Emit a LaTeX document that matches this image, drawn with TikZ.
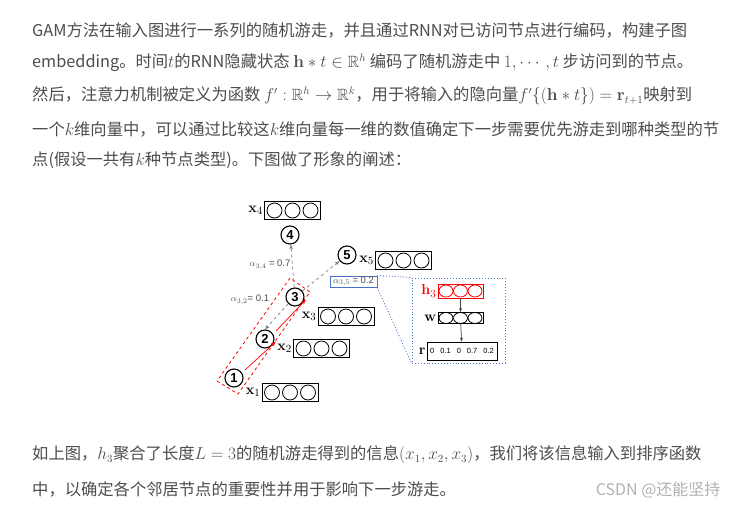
\documentclass[tikz,border=0pt]{standalone}
\usepackage{amsmath,amssymb}
\usepackage[no-math]{fontspec}
\setmainfont{Noto Sans CJK SC}
\newfontfamily\lib{Liberation Sans}
\usetikzlibrary{arrows.meta}
\definecolor{txt}{HTML}{4D4D4D}
\definecolor{bl}{HTML}{4A72C4}
\begin{document}
\begin{tikzpicture}[x=1pt,y=-1pt,
  para/.style={anchor=west,inner sep=0,text=txt,font=\fontsize{16.3}{18}\selectfont},
  num/.style={circle,draw,line width=1.1pt,minimum size=18pt,inner sep=0,font=\lib\bfseries\fontsize{13}{13}\selectfont},
  vec/.style={draw,line width=0.8pt,minimum width=56pt,minimum height=18pt,inner sep=0},
  lab/.style={font=\fontsize{15}{15}\selectfont,inner sep=1pt},
  redar/.style={red,-{Stealth[length=5pt]},line width=0.7pt},
  grar/.style={gray,dashed,-{Stealth[length=5pt]},line width=0.7pt}]
\useasboundingbox[fill=white](0,0) rectangle (736,509);
\node[para] (l1) at (32,30) {GAM方法在输入图进行一系列的随机游走，并且通过RNN对已访问节点进行编码，构建子图};
\node[para] (l2) at (32,63) {embedding。时间$t$的RNN隐藏状态 $\mathbf{h}*t\in\mathbb{R}^h$ 编码了随机游走中 $1,\cdots,t$ 步访问到的节点。};
\node[para] (l3) at (32,96) {然后，注意力机制被定义为函数 $f':\mathbb{R}^h\rightarrow\mathbb{R}^k$，用于将输入的隐向量$f'\{(\mathbf{h}*t\}) = \mathbf{r}_{t+1}$映射到};
\node[para] (l4) at (32,129) {一个$k$维向量中，可以通过比较这$k$维向量每一维的数值确定下一步需要优先游走到哪种类型的节};
\node[para] (l5) at (32,160) {点(假设一共有$k$种节点类型)。下图做了形象的阐述：};
\node[para] (l6) at (32,455) {如上图，$h_3$聚合了长度$L=3$的随机游走得到的信息$(x_1,x_2,x_3)$，我们将该信息输入到排序函数};
\node[para] (l7) at (32,489) {中，以确定各个邻居节点的重要性并用于影响下一步游走。};
\node[anchor=east,text=gray!60,font=\fontsize{16}{16}\selectfont] (wm) at (724,490) {CSDN @还能坚持};
% walk box
\draw[red,dashed,line width=0.8pt] (217,381) -- (238,394) -- (310,292) -- (290,278) -- cycle;
% numbered nodes
\node[num] (n1) at (234,378) {1};
\node[num] (n2) at (265,339) {2};
\node[num] (n3) at (295,297) {3};
\node[num] (n4) at (290,235) {4};
\node[num] (n5) at (347,255) {5};
% vectors
\foreach \n/\x/\y in {x1/290/392.5,x2/321.5/348.5,x3/346/316.5,x4/292.5/210.5,x5/403.5/260.5}{
  \node[vec] (\n) at (\x,\y) {};
  \foreach \d in {-18,0,18}{\draw[line width=0.8pt] ([xshift=\d pt]\n.center) circle (7.5pt);}
}
\node[lab,anchor=east] (lx1) at (x1.west) {$\mathbf{x}_1$};
\node[lab,anchor=east] (lx2) at (x2.west) {$\mathbf{x}_2$};
\node[lab,anchor=east] (lx3) at (x3.west) {$\mathbf{x}_3$};
\node[lab,anchor=east] (lx4) at (x4.west) {$\mathbf{x}_4$};
\node[lab,anchor=east] (lx5) at (x5.west) {$\mathbf{x}_5$};
% edges
\draw[redar] ([shift={(4pt,1pt)}]n1.north east) -- ([shift={(4pt,4pt)}]n2.south east);
\draw[redar] ([shift={(4pt,1pt)}]n2.north east) -- ([shift={(4pt,4pt)}]n3.south east);
\draw[grar] (n3.south west) -- (n2.north);
\draw[grar] (n3) -- (n4);
\draw[grar] (n3) -- (n5);
\node[font=\lib\fontsize{9.5}{10}\selectfont,text=txt] (a34) at (270,265) {$\alpha_{3,4}$ = 0.7};
\node[font=\lib\fontsize{9.5}{10}\selectfont,text=txt] (a32) at (250,300) {$\alpha_{3,2}$= 0.1};
\node[draw=bl,line width=0.6pt,font=\lib\fontsize{9.5}{10}\selectfont,text=txt,minimum width=47pt,minimum height=11pt,inner sep=1pt] (a35) at (353.5,281.5) {$\alpha_{3,5}$ = 0.2};
% zoom box
\node[draw=bl,dotted,line width=0.9pt,minimum width=93pt,minimum height=85pt] (zb) at (458.5,320.5) {};
\draw[bl,dotted,line width=0.9pt] (a35.north east) -- (zb.north west);
\draw[bl,dotted,line width=0.9pt] (a35.south east) -- (zb.south west);
\node[draw=red,line width=0.8pt,minimum width=45pt,minimum height=14pt,inner sep=0] (h3) at (460.5,291) {};
\node[draw,line width=0.8pt,minimum width=45pt,minimum height=11pt,inner sep=0] (w) at (460.5,318) {};
\foreach \d in {-14.5,0,14.5}{\draw[red,line width=0.8pt] ([xshift=\d pt]h3.center) ellipse (7pt and 6pt);
  \draw[line width=0.8pt] ([xshift=\d pt]w.center) ellipse (7pt and 5.5pt);}
\node[draw,line width=0.8pt,minimum width=70pt,minimum height=18pt,inner sep=0,font=\lib\fontsize{7.5}{8}\selectfont] (r) at (462,351) {0\hspace{6pt}0.1\hspace{6pt}0\hspace{6pt}0.7\hspace{6pt}0.2};
\node[lab,anchor=east,text=red] (lh) at (h3.west) {$\mathbf{h}_3$};
\node[lab,anchor=east] (lw) at (w.west) {$\mathbf{w}$};
\node[lab,anchor=east] (lr) at (r.west) {$\mathbf{r}$};
\draw[-{Stealth[length=4pt]},darkgray,line width=0.7pt] (h3) -- (w);
\draw[-{Stealth[length=4pt]},darkgray,line width=0.7pt] (w) -- (r);
\end{tikzpicture}
\end{document}
